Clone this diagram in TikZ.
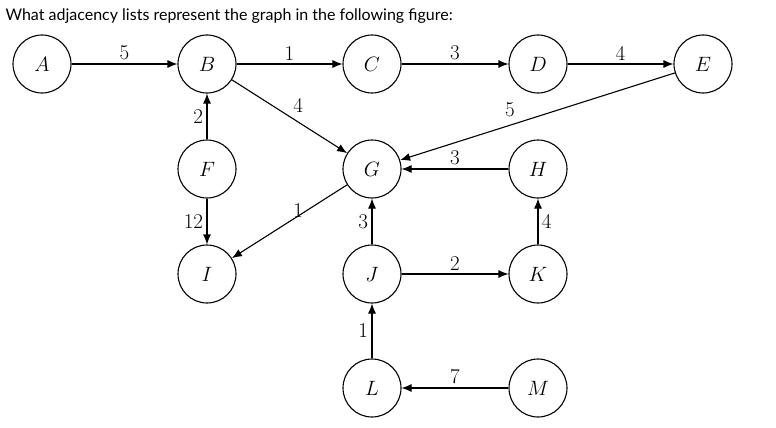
\documentclass[tikz,border=0pt]{standalone}
\usepackage{fontspec}
\newfontfamily\titlefont{Lato}
\usetikzlibrary{arrows.meta}
\begin{document}
\begin{tikzpicture}[x=1pt, y=-1pt,
        vertex/.style={circle, draw, line width=1.1pt, minimum size=58pt, inner sep=0pt, font=\fontsize{21}{21}\selectfont},
        edge/.style={-{Latex[length=10pt, width=8pt]}, line width=1.1pt},
        wt/.style={font=\fontsize{21}{21}\selectfont}
    ]
        \useasboundingbox (0,0) rectangle (776,428);
        \node[anchor=west, font=\titlefont\fontsize{16}{16}\selectfont] (title) at (2,16) {What adjacency lists represent the graph in the following figure:};

        % Vertices
        \node[vertex] (A) at (42,64) {$A$};
        \node[vertex] (B) at (207,64) {$B$};
        \node[vertex] (C) at (372,64) {$C$};
        \node[vertex] (D) at (538,64) {$D$};
        \node[vertex] (E) at (703,64) {$E$};
        \node[vertex] (F) at (207,169) {$F$};
        \node[vertex] (G) at (372,169) {$G$};
        \node[vertex] (H) at (538,169) {$H$};
        \node[vertex] (I) at (207,274) {$I$};
        \node[vertex] (J) at (372,274) {$J$};
        \node[vertex] (K) at (538,274) {$K$};
        \node[vertex] (L) at (372,388) {$L$};
        \node[vertex] (M) at (538,388) {$M$};

        % Weighted edges
        \draw[edge] (A) -- (B) node[wt, midway, above] {5};
        \draw[edge] (B) -- (C) node[wt, midway, above] {1};
        \draw[edge] (C) -- (D) node[wt, midway, above] {3};
        \draw[edge] (D) -- (E) node[wt, midway, above] {4};
        \draw[edge] (E) -- (G) node[wt, pos=0.6, above, yshift=4pt] {5};
        \draw[edge] (B) -- (G) node[wt, midway, above right] {4};
        \draw[edge] (F) -- (B) node[wt, midway, left] {2};
        \draw[edge] (F) -- (I) node[wt, midway, left] {12};
        \draw[edge] (G) -- (I) node[wt, midway, above right] {1};
        \draw[edge] (H) -- (G) node[wt, midway, above] {3};
        \draw[edge] (J) -- (G) node[wt, midway, left] {3};
        \draw[edge] (J) -- (K) node[wt, midway, above] {2};
        \draw[edge] (K) -- (H) node[wt, midway, right] {4};
        \draw[edge] (L) -- (J) node[wt, midway, left] {1};
        \draw[edge] (M) -- (L) node[wt, midway, above] {7};
    \end{tikzpicture}
\end{document}
